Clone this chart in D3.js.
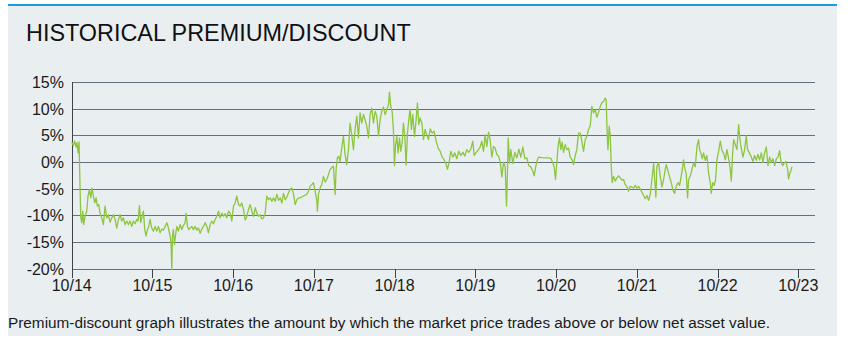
<html>
<head>
<meta charset="utf-8" />
<title>Historical Premium/Discount</title>
<script src="https://cdn.jsdelivr.net/npm/d3@7"></script>
<style>
	body { margin: 0; background: #fff; font-family: "Liberation Sans", Arial, sans-serif; }
	.grid line { stroke: #66727a; shape-rendering: crispEdges; }
	.tick-label { font-size: 16px; fill: #1a1a1a; }
</style>
</head>
<body>
<script>

// percent ticks on the value axis
var yTicks = [-20, -15, -10, -5, 0, 5, 10, 15];

// october of each year, as decimal years
var xTickYears = [2014.75, 2015.75, 2016.75, 2017.75, 2018.75, 2019.75, 2020.75, 2021.75, 2022.75, 2023.75];
var xTickLabels = ["10/14", "10/15", "10/16", "10/17", "10/18", "10/19", "10/20", "10/21", "10/22", "10/23"];

// [decimal year, premium/discount %]
var premium = [
[2014.750,3.7],[2014.771,3.1],[2014.787,3.9],[2014.804,2.8],[2014.816,3.6],[2014.829,1.7],[2014.841,3.75],
[2014.853,-4.6],[2014.862,-10.2],[2014.874,-11.4],[2014.886,-9.25],[2014.899,-11.75],[2014.915,-10.2],
[2014.936,-9.25],[2014.952,-6.4],[2014.969,-5.2],[2014.986,-6.75],[2015.002,-4.9],[2015.019,-6.4],
[2015.035,-7.7],[2015.052,-6.75],[2015.068,-8.3],[2015.085,-8.0],[2015.101,-9.6],[2015.122,-10.5],
[2015.143,-11.75],[2015.163,-8.3],[2015.184,-10.5],[2015.205,-9.9],[2015.225,-11.3],[2015.246,-10.5],
[2015.267,-9.9],[2015.287,-10.8],[2015.308,-12.4],[2015.329,-10.8],[2015.349,-9.9],[2015.370,-11.1],
[2015.390,-10.5],[2015.411,-11.75],[2015.432,-11.1],[2015.452,-11.75],[2015.473,-11.1],[2015.494,-12.1],
[2015.514,-11.1],[2015.535,-11.6],[2015.556,-10.8],[2015.572,-11.1],[2015.589,-8.2],[2015.605,-11.4],
[2015.622,-10.2],[2015.638,-9.25],[2015.655,-12.7],[2015.671,-13.9],[2015.688,-12.7],[2015.705,-12.1],
[2015.721,-10.8],[2015.742,-12.4],[2015.762,-13.0],[2015.783,-12.1],[2015.804,-13.0],[2015.824,-12.1],
[2015.845,-13.3],[2015.866,-12.6],[2015.886,-12.8],[2015.907,-12.1],[2015.928,-11.4],[2015.948,-12.4],
[2015.969,-13.9],[2015.981,-15.2],[2015.990,-20.2],[2015.998,-13.9],[2016.010,-12.7],[2016.023,-15.5],
[2016.035,-13.9],[2016.052,-12.1],[2016.072,-13.0],[2016.093,-11.75],[2016.114,-12.7],[2016.134,-11.9],
[2016.155,-11.4],[2016.167,-9.6],[2016.184,-12.1],[2016.200,-12.7],[2016.217,-12.4],[2016.238,-12.1],
[2016.258,-12.7],[2016.279,-12.1],[2016.300,-12.8],[2016.320,-12.4],[2016.341,-13.4],[2016.362,-12.6],
[2016.382,-12.1],[2016.403,-11.4],[2016.424,-12.1],[2016.444,-13.3],[2016.465,-11.75],[2016.486,-11.1],
[2016.506,-11.6],[2016.527,-10.8],[2016.548,-10.2],[2016.568,-9.25],[2016.589,-10.5],[2016.610,-9.6],
[2016.630,-10.2],[2016.651,-9.7],[2016.671,-10.5],[2016.692,-9.25],[2016.713,-9.6],[2016.733,-11.1],
[2016.754,-8.3],[2016.775,-7.7],[2016.795,-6.4],[2016.816,-8.0],[2016.837,-8.3],[2016.857,-7.7],
[2016.878,-8.9],[2016.899,-10.9],[2016.919,-10.2],[2016.940,-8.9],[2016.961,-8.0],[2016.981,-9.25],
[2017.002,-10.2],[2017.023,-8.6],[2017.043,-9.6],[2017.064,-10.2],[2017.085,-9.9],[2017.105,-10.7],
[2017.126,-10.5],[2017.147,-9.6],[2017.167,-6.4],[2017.188,-7.1],[2017.209,-6.75],[2017.229,-7.4],
[2017.250,-6.75],[2017.271,-7.4],[2017.291,-6.1],[2017.312,-7.2],[2017.333,-6.75],[2017.353,-7.7],
[2017.374,-5.9],[2017.395,-7.1],[2017.415,-6.6],[2017.436,-5.8],[2017.457,-5.1],[2017.477,-4.9],
[2017.498,-6.1],[2017.519,-8.0],[2017.539,-7.1],[2017.560,-6.75],[2017.579,-6.75],[2017.620,-6.4],
[2017.661,-6.1],[2017.682,-5.5],[2017.703,-4.6],[2017.723,-4.25],[2017.744,-3.9],[2017.765,-5.5],
[2017.785,-7.1],[2017.794,-9.25],[2017.806,-6.1],[2017.827,-4.9],[2017.847,-4.25],[2017.868,-2.7],
[2017.889,-3.8],[2017.909,-3.3],[2017.930,-2.4],[2017.951,-1.4],[2017.971,-1.1],[2017.992,-0.8],
[2018.013,-6.1],[2018.025,-1.4],[2018.041,0.75],[2018.058,1.1],[2018.074,0.1],[2018.095,2.6],
[2018.116,4.8],[2018.136,1.4],[2018.157,-0.5],[2018.178,2.3],[2018.198,7.3],[2018.219,5.1],
[2018.240,2.3],[2018.260,6.1],[2018.281,8.6],[2018.302,4.5],[2018.322,9.2],[2018.343,7.3],
[2018.364,8.9],[2018.384,7.9],[2018.405,6.7],[2018.426,4.5],[2018.446,8.9],[2018.467,10.1],
[2018.488,7.3],[2018.508,9.5],[2018.529,8.6],[2018.550,4.9],[2018.570,7.9],[2018.591,9.5],
[2018.612,10.3],[2018.632,8.9],[2018.653,9.8],[2018.674,10.75],[2018.686,13.1],[2018.703,10.3],
[2018.719,9.5],[2018.735,6.1],[2018.748,-0.7],[2018.760,2.9],[2018.777,4.8],[2018.793,1.7],
[2018.810,4.5],[2018.826,2.0],[2018.843,3.6],[2018.859,7.3],[2018.876,4.8],[2018.892,-0.6],
[2018.909,5.4],[2018.925,7.9],[2018.942,9.9],[2018.958,6.1],[2018.975,8.9],[2018.996,4.8],
[2019.016,7.9],[2019.033,11.1],[2019.049,7.0],[2019.066,8.25],[2019.087,7.3],[2019.107,4.2],
[2019.128,6.1],[2019.148,5.1],[2019.169,4.2],[2019.190,6.2],[2019.215,5.4],[2019.239,5.75],
[2019.264,3.9],[2019.289,2.6],[2019.314,2.0],[2019.339,0.9],[2019.363,0.4],[2019.388,-0.5],
[2019.405,-1.4],[2019.425,-0.1],[2019.446,2.0],[2019.471,0.9],[2019.495,1.7],[2019.520,0.6],
[2019.545,2.0],[2019.570,1.2],[2019.595,1.8],[2019.619,1.1],[2019.644,2.3],[2019.669,1.8],
[2019.694,2.4],[2019.718,3.9],[2019.735,1.2],[2019.760,1.8],[2019.784,2.2],[2019.809,2.8],
[2019.830,3.9],[2019.851,2.0],[2019.871,5.1],[2019.892,2.9],[2019.913,5.6],[2019.933,4.2],
[2019.954,0.9],[2019.975,2.9],[2019.995,2.6],[2020.016,1.4],[2020.037,1.1],[2020.057,0.1],
[2020.078,-2.8],[2020.099,-0.1],[2020.119,-0.9],[2020.136,-8.3],[2020.148,-1.4],[2020.157,4.5],
[2020.173,-0.2],[2020.189,2.3],[2020.214,-0.3],[2020.239,1.8],[2020.264,0.75],[2020.289,2.4],
[2020.313,0.9],[2020.338,2.8],[2020.363,0.6],[2020.388,0.75],[2020.412,-0.7],[2020.437,-0.9],
[2020.462,-1.75],[2020.479,-2.6],[2020.495,-1.1],[2020.512,0.1],[2020.532,0.9],[2020.574,0.8],
[2020.635,0.75],[2020.685,0.7],[2020.710,-0.2],[2020.726,-0.9],[2020.743,-3.3],[2020.759,-0.1],
[2020.776,3.1],[2020.792,4.5],[2020.809,2.3],[2020.825,3.7],[2020.842,1.8],[2020.863,3.25],
[2020.883,2.3],[2020.904,2.6],[2020.925,0.9],[2020.949,0.4],[2020.966,-0.5],[2020.987,1.2],
[2021.007,2.3],[2021.028,5.4],[2021.049,5.4],[2021.069,3.9],[2021.090,2.0],[2021.111,4.2],
[2021.131,4.8],[2021.152,6.1],[2021.173,6.8],[2021.193,10.4],[2021.214,9.2],[2021.235,9.8],
[2021.255,8.4],[2021.276,9.3],[2021.297,10.4],[2021.317,11.1],[2021.338,11.4],[2021.359,12.0],
[2021.371,11.6],[2021.379,7.0],[2021.392,2.3],[2021.408,6.7],[2021.421,4.8],[2021.433,-0.8],
[2021.445,-3.9],[2021.462,-2.7],[2021.483,-3.6],[2021.503,-3.0],[2021.524,-2.6],[2021.545,-3.0],
[2021.565,-3.4],[2021.586,-3.3],[2021.606,-4.25],[2021.627,-4.6],[2021.648,-5.5],[2021.668,-4.6],
[2021.689,-4.7],[2021.710,-4.9],[2021.730,-4.4],[2021.751,-4.9],[2021.772,-4.6],[2021.792,-5.1],
[2021.813,-5.7],[2021.834,-6.3],[2021.854,-6.9],[2021.875,-6.3],[2021.896,-7.2],[2021.916,-6.1],
[2021.937,-3.3],[2021.958,-0.3],[2021.974,-3.9],[2021.986,-6.6],[2021.999,-0.8],[2022.020,-0.1],
[2022.040,-2.7],[2022.061,-4.7],[2022.082,-3.3],[2022.102,-1.4],[2022.115,-0.5],[2022.131,-1.4],
[2022.156,-2.8],[2022.177,-3.9],[2022.197,-5.3],[2022.218,-5.9],[2022.238,-4.6],[2022.259,-3.9],
[2022.280,-4.4],[2022.296,-3.0],[2022.313,-1.4],[2022.329,0.4],[2022.346,-1.4],[2022.362,-2.2],
[2022.379,-6.75],[2022.391,-3.3],[2022.412,-2.7],[2022.433,-1.4],[2022.453,-0.2],[2022.474,-0.9],
[2022.495,2.9],[2022.515,4.2],[2022.528,2.3],[2022.544,1.6],[2022.561,0.6],[2022.577,1.7],
[2022.598,0.3],[2022.618,1.2],[2022.639,-2.1],[2022.660,-3.9],[2022.672,-5.9],[2022.689,-3.9],
[2022.709,-4.4],[2022.726,-3.3],[2022.742,0.4],[2022.763,2.0],[2022.784,3.9],[2022.804,2.2],
[2022.825,1.6],[2022.846,0.4],[2022.866,2.3],[2022.887,0.6],[2022.908,-1.4],[2022.920,-3.6],
[2022.937,1.7],[2022.949,4.2],[2022.970,3.25],[2022.990,2.3],[2023.011,7.0],[2023.023,4.8],
[2023.040,2.9],[2023.065,0.9],[2023.085,2.3],[2023.106,4.9],[2023.122,2.3],[2023.147,1.6],
[2023.168,0.9],[2023.188,0.1],[2023.209,1.2],[2023.230,0.3],[2023.250,1.4],[2023.271,0.4],
[2023.292,1.7],[2023.312,-0.1],[2023.333,1.7],[2023.354,2.8],[2023.374,-0.7],[2023.395,0.9],
[2023.416,-0.1],[2023.436,0.6],[2023.457,-0.7],[2023.478,0.6],[2023.498,0.9],[2023.519,2.1],
[2023.535,0.1],[2023.556,-0.7],[2023.577,-0.2],[2023.597,0.1],[2023.618,-1.4],[2023.630,-3.2],
[2023.643,-2.2],[2023.659,-1.6],[2023.672,-0.9]
];

var titleText = "HISTORICAL PREMIUM/DISCOUNT";
var captionText = "Premium-discount graph illustrates the amount by which the market price trades above or below net asset value.";

var W = 848, H = 351;
var plot = {left: 71.7, right: 815, top: 82, bottom: 268.5};

var svg = d3.select("body").append("svg")
	.attr("width", W)
	.attr("height", H);

// panel
svg.append("rect").attr("x", 8).attr("y", 6).attr("width", 829).attr("height", 330).attr("fill", "#e9eef1");
svg.append("rect").attr("x", 8).attr("y", 4).attr("width", 829).attr("height", 2).attr("fill", "#1b9ce2");

svg.append("text")
	.attr("x", 26).attr("y", 41)
	.attr("font-size", "23.4px")
	.attr("fill", "#111")
	.text(titleText);

var x = d3.scaleLinear().domain([2014.75, 2023.957]).range([plot.left, plot.right]);
var y = d3.scaleLinear().domain([-20, 15]).range([plot.bottom, plot.top]);

// gridlines
var grid = svg.append("g").attr("class", "grid");
grid.selectAll("line")
	.data(yTicks).enter()
	.append("line")
	.attr("x1", plot.left).attr("x2", plot.right)
	.attr("y1", d => Math.round(y(d)) + 0.5)
	.attr("y2", d => Math.round(y(d)) + 0.5)
	.attr("stroke", d => d == -20 ? "#3d4449" : "#5f6a71");

// y axis line
svg.append("line")
	.attr("x1", Math.round(plot.left) + 0.5).attr("x2", Math.round(plot.left) + 0.5)
	.attr("y1", Math.round(plot.top)).attr("y2", Math.round(plot.bottom) + 9)
	.attr("stroke", "#3d4449").attr("shape-rendering", "crispEdges");

// x ticks
svg.selectAll(".xtick")
	.data(xTickYears).enter()
	.append("line")
	.attr("class", "xtick")
	.attr("x1", d => Math.round(x(d)) + 0.5).attr("x2", d => Math.round(x(d)) + 0.5)
	.attr("y1", Math.round(plot.bottom)).attr("y2", Math.round(plot.bottom) + 9)
	.attr("stroke", "#3d4449").attr("shape-rendering", "crispEdges");

svg.selectAll(".xlab")
	.data(xTickYears).enter()
	.append("text")
	.attr("class", "tick-label")
	.attr("x", d => x(d))
	.attr("y", 291)
	.attr("text-anchor", "middle")
	.text((d, i) => xTickLabels[i]);

svg.selectAll(".ylab")
	.data(yTicks).enter()
	.append("text")
	.attr("class", "tick-label")
	.attr("x", 64)
	.attr("y", d => y(d) + 6)
	.attr("text-anchor", "end")
	.text(d => d + "%");

var line = d3.line()
	.x(d => x(d[0]))
	.y(d => y(d[1]));

svg.append("path")
	.datum(premium)
	.attr("d", line)
	.attr("fill", "none")
	.attr("stroke", "#8cc63f")
	.attr("stroke-width", 1.3)
	.attr("stroke-linejoin", "round");

svg.append("text")
	.attr("x", 8).attr("y", 328)
	.attr("font-size", "15.5px")
	.attr("fill", "#1a1a1a")
	.attr("textLength", 762)
	.attr("lengthAdjust", "spacingAndGlyphs")
	.text(captionText);

</script>
</body>
</html>
